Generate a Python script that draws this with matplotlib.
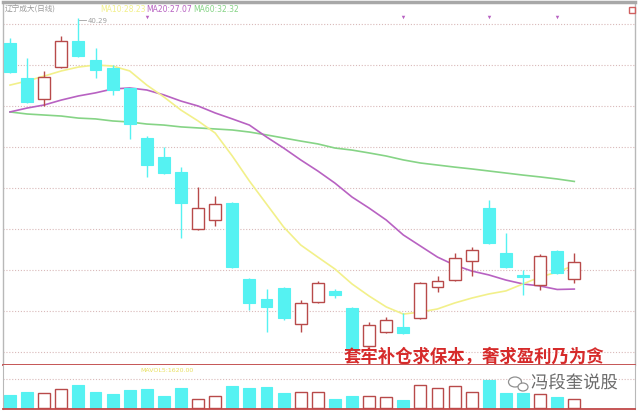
import matplotlib
matplotlib.use('Agg')
import matplotlib.pyplot as plt
from matplotlib.patches import Ellipse
import matplotlib.patheffects as pe

plt.rcParams['font.family'] = ['DejaVu Sans', 'Noto Sans CJK SC']

# ---------------- data (daily candles) ----------------
opens = [39.07, 37.37, 36.34, 37.90, 39.17, 38.24, 37.85, 36.88, 34.44, 33.51,
         32.78, 30.00, 30.44, 31.27, 27.56, 26.59, 27.12, 25.37, 26.44, 26.98,
         26.15, 24.29, 24.98, 25.22, 25.66, 27.17, 27.51, 28.44, 31.02, 28.83,
         27.76, 27.27, 28.93, 27.56]
highs = [39.32, 38.34, 37.71, 39.41, 40.29, 38.83, 38.00, 36.88, 34.54, 34.00,
         33.02, 32.05, 31.61, 31.32, 27.61, 27.07, 27.17, 26.54, 27.46, 27.07,
         26.20, 25.46, 25.71, 25.90, 27.41, 27.71, 28.83, 29.12, 31.41, 29.80,
         28.00, 28.78, 28.98, 28.83]
lows = [37.61, 36.15, 36.00, 37.85, 38.39, 37.37, 36.54, 34.39, 32.54, 32.68,
        29.56, 29.95, 30.15, 28.10, 26.05, 24.98, 25.56, 24.98, 26.39, 26.63,
        24.05, 24.24, 24.93, 24.88, 25.61, 26.93, 27.46, 27.71, 29.27, 28.10,
        26.78, 27.02, 27.80, 27.37]
closes = [37.66, 36.20, 37.41, 39.17, 38.44, 37.76, 36.78, 35.12, 33.12, 32.73,
          31.27, 31.02, 31.22, 28.15, 26.39, 26.20, 25.66, 26.39, 27.37, 26.78,
          24.10, 25.32, 25.56, 24.93, 27.37, 27.46, 28.59, 28.98, 29.32, 28.15,
          27.66, 28.68, 27.85, 28.41]
volumes = [1300, 1600, 1500, 1900, 2300, 1600, 1400, 1800, 1900, 1200,
           2000, 900, 1200, 2200, 2000, 2100, 1500, 1600, 1600, 900,
           1230, 1230, 1130, 830, 2300, 1970, 2230, 1570, 2830, 1500,
           1500, 1400, 1130, 900]
ma10 = [37.02, 37.22, 37.46, 37.71, 37.90, 38.00, 37.95, 37.71, 37.02, 36.44,
        35.80, 35.27, 34.68, 33.56, 32.34, 31.22, 30.10, 29.22, 28.63, 28.05,
        27.32, 26.73, 26.20, 25.85, 25.95, 26.10, 26.39, 26.63, 26.83, 26.98,
        27.32, 27.66, 27.90, 28.23]
ma20 = [35.71, 35.90, 36.05, 36.29, 36.49, 36.64, 36.83, 36.88, 36.78, 36.54,
        36.24, 36.00, 35.66, 35.37, 35.07, 34.49, 33.95, 33.37, 32.83, 32.24,
        31.56, 31.02, 30.44, 29.71, 29.17, 28.63, 28.24, 27.95, 27.76, 27.51,
        27.32, 27.22, 27.05, 27.07]
ma60 = [35.71, 35.61, 35.56, 35.51, 35.41, 35.37, 35.27, 35.22, 35.12, 35.07,
        34.98, 34.93, 34.88, 34.83, 34.73, 34.59, 34.44, 34.29, 34.15, 33.95,
        33.85, 33.71, 33.56, 33.37, 33.22, 33.12, 33.02, 32.93, 32.83, 32.73,
        32.63, 32.54, 32.44, 32.32]
grid_prices = [40, 38, 36, 34, 32, 30, 28, 26, 24]
vol_grid = [2900]

title_name = "辽宁成大(日线)"
ma_labels = ["MA10:28.23", "MA20:27.07", "MA60:32.32"]
high_label = "40.29"
vol_label = "MAVOL5:1620.00"
caption = "套牢补仓求保本，奢求盈利乃为贪"
watermark = "冯段奎说股"

# ---------------- style ----------------
CYAN = '#55F2F2'
RED = '#B84A4A'
YELLOW = '#F2F08A'
MAGENTA = '#B862C2'
GREEN = '#86D486'
GRID = '#D9B9B9'

fig = plt.figure(figsize=(6.4, 4.12), dpi=100)
fig.patch.set_facecolor('white')

x = list(range(len(opens)))
x_lo = (3 - 10) / 17.1
x_hi = (635 - 10) / 17.1

ax = fig.add_axes([3 / 640, 47 / 412, 632 / 640, 363 / 412])
ax.set_xlim(x_lo, x_hi)
ax.set_ylim(23.366, 41.073)
ax.set_xticks([])
ax.set_yticks([])
for s in ['left', 'right']:
    ax.spines[s].set_color('#B8B8B8')
    ax.spines[s].set_linewidth(1.0)
ax.spines['top'].set_color('#A8A8A8')
ax.spines['top'].set_linewidth(2.5)
ax.spines['bottom'].set_color('#C04848')
ax.spines['bottom'].set_linewidth(1.3)

for p in grid_prices:
    ax.axhline(p, color=GRID, lw=0.8, ls=(0, (1, 1.6)), zorder=0)

# moving averages
ax.plot(x, ma60, color=GREEN, lw=1.2, zorder=1)
ax.plot(x, ma20, color=MAGENTA, lw=1.2, zorder=1)
ax.plot(x, ma10, color=YELLOW, lw=1.2, zorder=1)

# candles
w = 0.7
for i in x:
    o, h, l, c = opens[i], highs[i], lows[i], closes[i]
    up = c >= o
    col = RED if up else CYAN
    ax.vlines(i, l, h, color=col, lw=1.0, zorder=2)
    if up:
        ax.bar(i, c - o, bottom=o, width=w, facecolor='white', edgecolor=RED,
               linewidth=1.0, zorder=3)
    else:
        ax.bar(i, o - c, bottom=c, width=w, facecolor=CYAN, edgecolor=CYAN,
               linewidth=0.8, zorder=3)

# volume panel
axv = fig.add_axes([3 / 640, 3 / 412, 632 / 640, 44 / 412])
axv.set_xlim(x_lo, x_hi)
axv.set_ylim(-100, 4300)
axv.set_xticks([])
axv.set_yticks([])
axv.spines['top'].set_visible(False)
for s in ['left', 'right']:
    axv.spines[s].set_color('#B8B8B8')
axv.spines['bottom'].set_color('#C04848')
axv.spines['bottom'].set_linewidth(1.3)
for g in vol_grid:
    axv.axhline(g, color=GRID, lw=0.8, ls=(0, (1, 1.6)), zorder=0)
for i in x:
    up = closes[i] >= opens[i]
    if up:
        axv.bar(i, volumes[i], width=w, facecolor='white', edgecolor=RED,
                linewidth=1.0, zorder=2)
    else:
        axv.bar(i, volumes[i], width=w, facecolor=CYAN, edgecolor=CYAN,
                linewidth=0.8, zorder=2)

# overlay in pixel coordinates for labels
ov = fig.add_axes([0, 0, 1, 1], zorder=10)
ov.set_xlim(0, 640)
ov.set_ylim(412, 0)
ov.axis('off')
ov.patch.set_alpha(0)

ov.text(5, 9, title_name, fontsize=5.5, color='#9A9A9A', va='center',
        family=['Noto Sans CJK SC', 'DejaVu Sans'])
ma_cols = [YELLOW, MAGENTA, GREEN]
ma_x = [100, 146, 193]
for lbl, cx, cc in zip(ma_labels, ma_x, ma_cols):
    ov.text(cx, 9, lbl, fontsize=5.5, color=cc, va='center')

# high price marker
ov.plot([79, 86], [20, 20], color='#A0A0A0', lw=0.6)
ov.text(88, 21, high_label, fontsize=5, color='#A0A0A0', va='center')

# small top markers
ov.plot([147, 403, 489, 557], [17, 17, 17, 17], 'v', color=MAGENTA, ms=2.5, mec='none')
ov.plot([632], [10], 's', mfc='none', mec='#D06060', ms=4, mew=1)

ov.text(474, 357, caption, fontsize=12.5, color='#D62A2A', fontweight='bold',
        ha='center', va='center', family=['Noto Sans CJK SC'])

ov.text(140, 370, vol_label, fontsize=4.5, color='#E8E060', va='center')

# watermark
ov.add_patch(Ellipse((515, 382), 13, 10, facecolor='white', edgecolor='#909090', lw=0.9))
ov.add_patch(Ellipse((523, 387), 10, 8, facecolor='white', edgecolor='#909090', lw=0.9))
ov.text(531, 383, watermark, fontsize=12.5, color='#6A6A6A', va='center',
        family=['Noto Sans CJK SC'],
        path_effects=[pe.withStroke(linewidth=2, foreground='white')])

fig.savefig('out.png', dpi=100)
